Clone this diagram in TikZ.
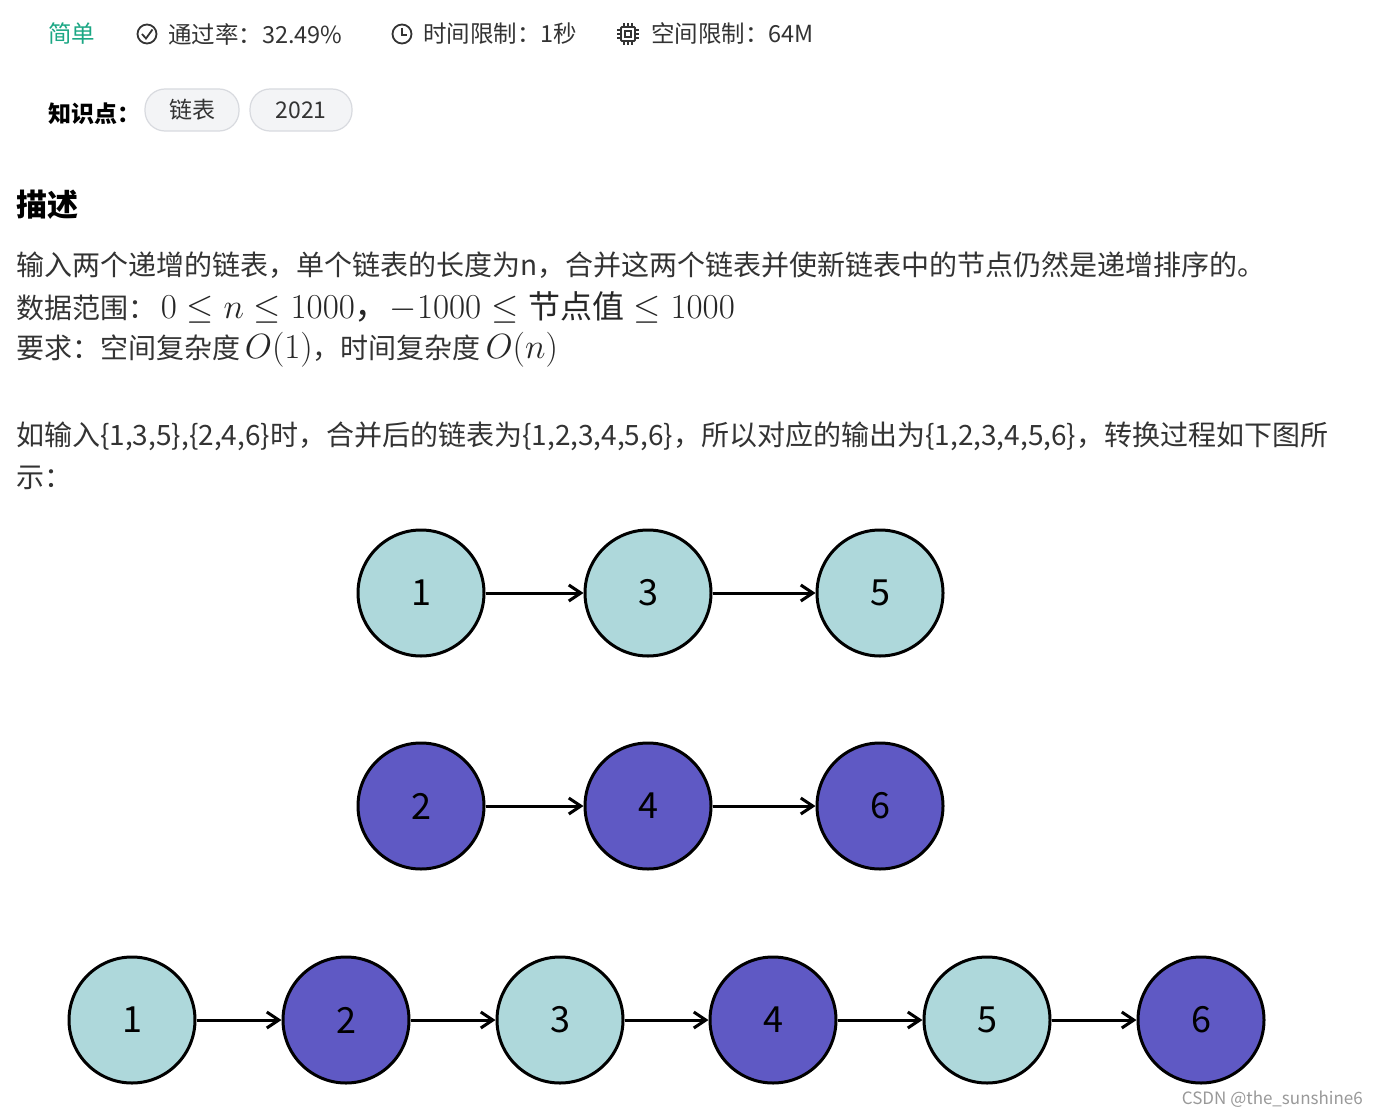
\RequirePackage{fix-cm}
\documentclass[tikz,border=0pt]{standalone}
\usepackage{fontspec}
\setmainfont{Noto Sans CJK SC}
\usetikzlibrary{arrows.meta}
\definecolor{teal1}{HTML}{AED8DB}
\definecolor{purp}{HTML}{5F59C4}
\definecolor{grn}{HTML}{1BA784}
\definecolor{txt}{HTML}{333333}
\definecolor{tagf}{HTML}{F3F4F6}
\definecolor{tagd}{HTML}{D8DADF}
\begin{document}
\begin{tikzpicture}[x=1pt,y=-1pt,
  nd/.style={circle,draw=black,line width=3pt,minimum size=126pt,inner sep=0pt,font=\fontsize{36}{36}\selectfont},
  ta/.style={nd,fill=teal1},
  pu/.style={nd,fill=purp},
  ar/.style={-{Straight Barb[length=12pt,width=16pt,line width=3pt]},line width=3pt},
  hd/.style={anchor=west,inner sep=0pt,text=txt,font=\fontsize{23.5}{23.5}\selectfont},
  bd/.style={anchor=west,inner sep=0pt,text=txt,font=\fontsize{28}{28}\selectfont},
  tag/.style={draw=tagd,fill=tagf,line width=1.2pt,rounded corners=20pt,minimum height=42pt,text=txt,font=\fontsize{23}{23}\selectfont}]
\useasboundingbox (0,0) rectangle (1378,1118);
\fill[white] (0,0) rectangle (1378,1118);
% header
\node[hd,text=grn] (easy) at (48,34) {简单};
\draw[txt,line width=1.8pt] (147,34) circle (9.5);
\draw[txt,line width=1.8pt] (142,34) -- (146,38.5) -- (152.5,29.5);
\node[hd] (rate) at (168,34) {通过率：32.49\%};
\draw[txt,line width=1.8pt] (402,34) circle (9.5);
\draw[txt,line width=1.8pt] (402,28) -- (402,35) -- (407,35);
\node[hd] (time) at (423,34) {时间限制：1秒};
\draw[txt,line width=1.8pt,rounded corners=1pt] (621,27) rectangle (635,41);
\draw[txt,line width=1.5pt] (625,31) rectangle (631,37);
\foreach \d in {-4,0,4}{\draw[txt,line width=1.5pt] (617,34+\d) -- (621,34+\d) (635,34+\d) -- (639,34+\d) (628+\d,23) -- (628+\d,27) (628+\d,41) -- (628+\d,45);}
\node[hd] (space) at (651,34) {空间限制：64M};
\node[hd,font=\fontsize{23}{23}\selectfont\bfseries,text=black] (kp) at (48,114) {知识点：};
\node[tag,minimum width=94pt] (t1) at (192,110) {链表};
\node[tag,minimum width=102pt] (t2) at (301,110) {2021};
% description
\node[anchor=west,inner sep=0pt,font=\fontsize{31}{31}\selectfont\bfseries,text=black] (ds) at (16,205) {描述};
\node[bd] (l1) at (16,265) {输入两个递增的链表，单个链表的长度为n，合并这两个链表并使新链表中的节点仍然是递增排序的。};
\node[bd] (l2) at (16,307) {数据范围：\,{\color{black!85}\fontsize{35}{35}\selectfont$0\le n\le 1000$，$-1000\le \mbox{\fontsize{32}{32}\selectfont 节点值}\le 1000$}};
\node[bd] (l3) at (16,350) {要求：空间复杂度\,{\color{black!85}\fontsize{35}{35}\selectfont$O(1)$}，时间复杂度\,{\color{black!85}\fontsize{35}{35}\selectfont$O(n)$}};
\node[bd] (l4) at (16,436) {如输入\{1,3,5\},\{2,4,6\}时，合并后的链表为\{1,2,3,4,5,6\}，所以对应的输出为\{1,2,3,4,5,6\}，转换过程如下图所};
\node[bd] (l5) at (16,478) {示：};
% lists
\node[ta] (a1) at (421,593) {1};
\node[ta] (a3) at (648,593) {3};
\node[ta] (a5) at (880,593) {5};
\draw[ar] (a1) -- (a3); \draw[ar] (a3) -- (a5);
\node[pu] (b2) at (421,806) {2};
\node[pu] (b4) at (648,806) {4};
\node[pu] (b6) at (880,806) {6};
\draw[ar] (b2) -- (b4); \draw[ar] (b4) -- (b6);
\node[ta] (c1) at (132,1020) {1};
\node[pu] (c2) at (346,1020) {2};
\node[ta] (c3) at (560,1020) {3};
\node[pu] (c4) at (773,1020) {4};
\node[ta] (c5) at (987,1020) {5};
\node[pu] (c6) at (1201,1020) {6};
\foreach \p/\q in {c1/c2,c2/c3,c3/c4,c4/c5,c5/c6}{\draw[ar] (\p) -- (\q);}
\node[anchor=east,inner sep=0pt,text=black!40,font=\fontsize{17}{17}\selectfont] (wm) at (1363,1099) {CSDN @the\_sunshine6};
\end{tikzpicture}
\end{document}
